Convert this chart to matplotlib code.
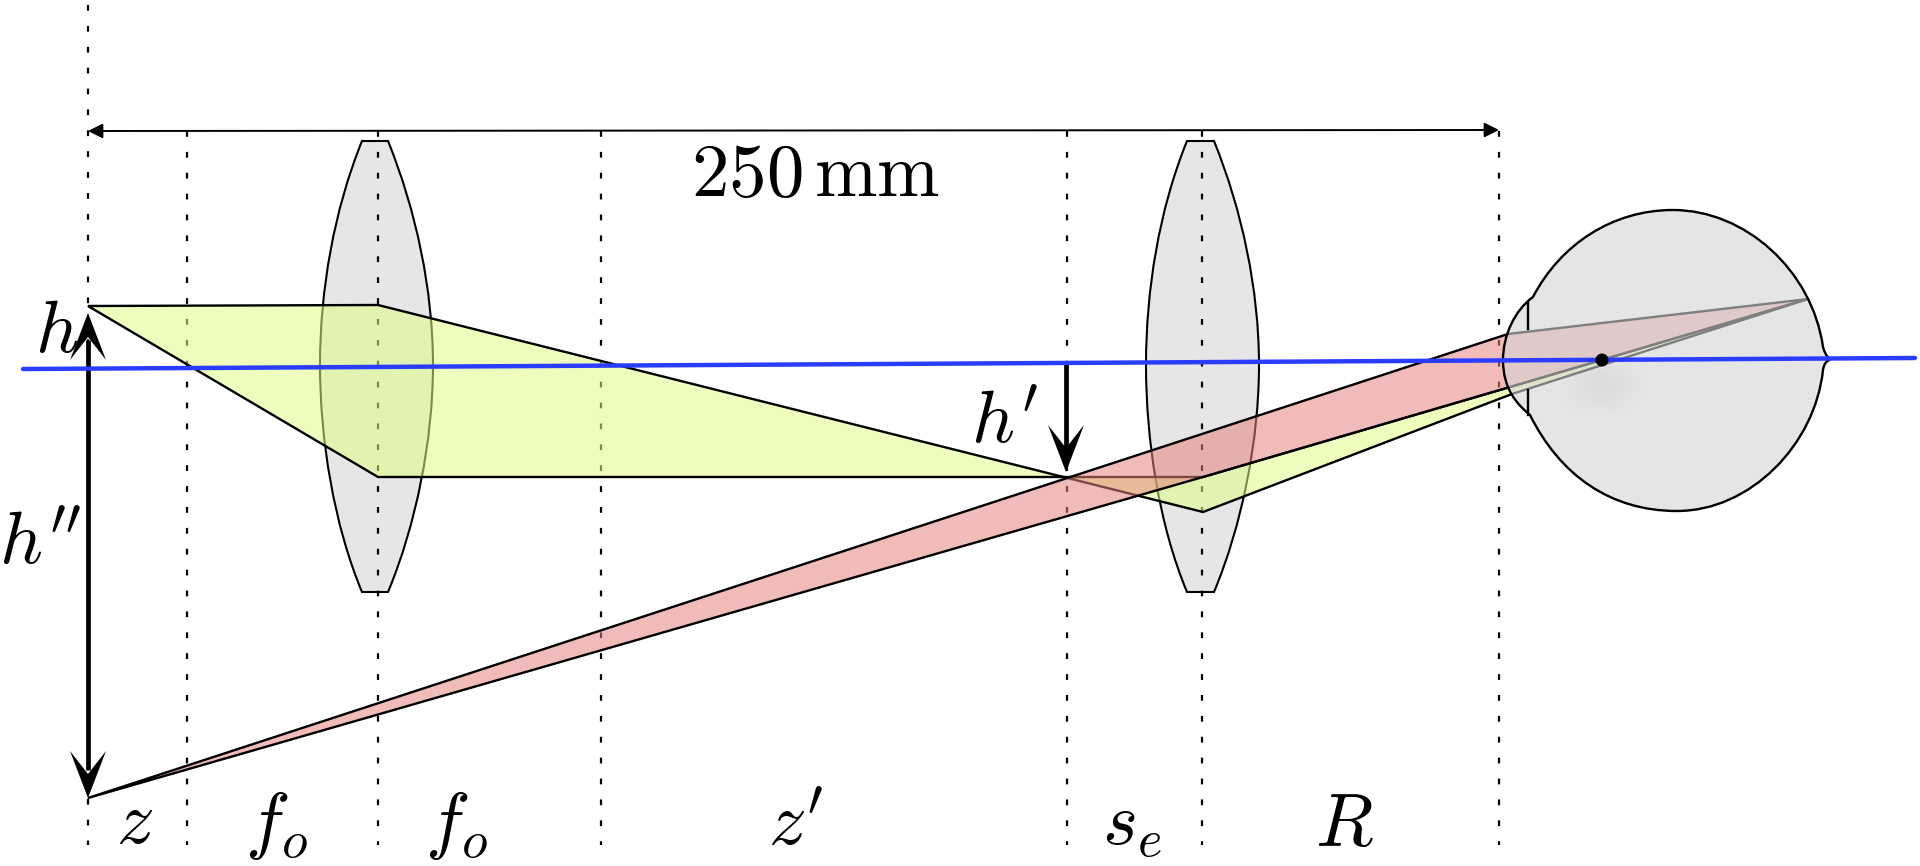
import numpy as np
import matplotlib
matplotlib.use("Agg")
import matplotlib.pyplot as plt
from matplotlib.patches import PathPatch, Polygon, Circle, Ellipse
from matplotlib.path import Path

plt.rcParams['mathtext.fontset'] = 'cm'

guide_x = [88, 187, 378, 601, 1067, 1202, 1499]
guide_top = [5, 131, 131, 131, 131, 131, 131]
guide_bottom = 845

lens_left = [320, 1146]
lens_right = [433, 1259]
lens_flat_left = [362, 1187]
lens_flat_right = [388, 1214]
yellow_pts = [(88, 306), (378, 305), (1203, 512), (1512, 394), (1808, 299),
              (1510, 387), (1203, 477), (378, 477)]
red_pts = [(88, 798), (1508, 334), (1808, 299), (1510, 387), (1203, 477)]
blue_x = [23, 1915]
blue_y = [369, 358]

labels = [(r'$250\,\mathrm{mm}$', 816, 196), (r'$h$', 57, 352), (r"$h''$", 40, 564),
          (r"$h'$", 1005, 443), (r'$z$', 135, 843), (r'$f_o$', 277, 845),
          (r'$f_o$', 457, 845), (r"$z'$", 796, 845), (r'$s_e$', 1132, 845),
          (r'$R$', 1344, 845)]


def lens_path(left, right, flat_l, flat_r):
    verts = [(flat_l, 141), (flat_l - 28, 210), (left, 290), (left, 365),
             (left, 440), (flat_l - 28, 525), (flat_l, 592), (flat_r, 592),
             (flat_r + 28, 525), (right, 440), (right, 365), (right, 290),
             (flat_r + 28, 210), (flat_r, 141), (flat_l, 141)]
    codes = [Path.MOVETO] + [Path.CURVE4] * 6 + [Path.LINETO] + [Path.CURVE4] * 6 + [Path.CLOSEPOLY]
    return Path(verts, codes)


def stealth(ax, x, tip_y, sign, half=18, length=47, notch=24):
    # latex style arrow head, sign=+1 points down
    pts = [(x, tip_y), (x - half, tip_y - sign * length), (x, tip_y - sign * notch),
           (x + half, tip_y - sign * length)]
    ax.add_patch(Polygon(pts, closed=True, fc='k', ec='none', zorder=6))


fig = plt.figure(figsize=(19.2, 8.66), dpi=100)
ax = fig.add_axes([0, 0, 1, 1])
ax.set_xlim(0, 1920)
ax.set_ylim(866, 0)
ax.axis('off')

# lenses
for l, r, fl, fr in zip(lens_left, lens_right, lens_flat_left, lens_flat_right):
    ax.add_patch(PathPatch(lens_path(l, r, fl, fr), fc='#e6e6e6', ec='k', lw=1.5, zorder=1))

# dotted guides
for x, top in zip(guide_x, guide_top):
    ax.plot([x, x], [top, guide_bottom], color='k', lw=1.6,
            linestyle=(0, (2.6, 6.8)), dash_capstyle='butt', zorder=2)

# ray bundles
ax.add_patch(Polygon(yellow_pts, closed=True, fc=(224/255, 252/255, 135/255, 0.55),
                     ec='k', lw=1.7, joinstyle='miter', zorder=3))
ax.add_patch(Polygon(red_pts, closed=True, fc=(228/255, 131/255, 126/255, 0.55),
                     ec='k', lw=1.7, joinstyle='miter', zorder=3.1))

# eye, half see-through so the rays show up washed out
eye_verts = [(1533, 297),
             (1560, 245), (1612, 210), (1673, 210),
             (1745, 210), (1812, 270), (1823, 347),
             (1825, 353), (1826, 357), (1831, 359),
             (1826, 361), (1824, 364), (1823, 370),
             (1815, 445), (1750, 511), (1677, 511),
             (1610, 511), (1560, 475), (1530, 415),
             (1518, 405), (1503, 390), (1503, 360),
             (1503, 335), (1515, 310), (1533, 297)]
eye_codes = [Path.MOVETO] + [Path.CURVE4] * 24
eye = Path(eye_verts, eye_codes)
ax.add_patch(PathPatch(eye, fc=(213/255, 213/255, 213/255, 0.6), ec='none', zorder=4))
ax.add_patch(PathPatch(eye, fc='none', ec='k', lw=1.7, zorder=4.1))
ax.plot([1528, 1528], [303, 329], color='k', lw=1.7, zorder=4.1)
ax.plot([1528, 1528], [390, 415], color='k', lw=1.7, zorder=4.1)

# faint smudge under the nodal point
for r in np.linspace(42, 6, 10):
    ax.add_patch(Ellipse((1602, 385), 2 * r, 1.5 * r, fc=(0, 0, 0, 0.003), ec='none', zorder=4.2))

# height arrows
ax.plot([88, 88], [340, 770], color='k', lw=3.4, solid_capstyle='butt', zorder=5)
stealth(ax, 88, 313, -1)
stealth(ax, 88, 798, 1)
ax.plot([1066, 1066], [363, 450], color='k', lw=3.4, solid_capstyle='butt', zorder=5)
stealth(ax, 1066, 472, 1)

# 250 mm span
ax.annotate('', xy=(88, 131), xytext=(1499, 130),
            arrowprops=dict(arrowstyle='<|-|>', color='k', lw=1.4, mutation_scale=22,
                            shrinkA=0, shrinkB=0), zorder=5)

# optical axis
ax.plot(blue_x, blue_y, color='#2a3cff', lw=3.2, solid_capstyle='round', zorder=7)
ax.add_patch(Circle((1602, 360), 6.5, fc='k', ec='none', zorder=8))

for txt, x, y in labels:
    ax.text(x, y, txt, fontsize=54, ha='center', va='baseline', color='k', zorder=9)

fig.savefig('out.png', dpi=100)
